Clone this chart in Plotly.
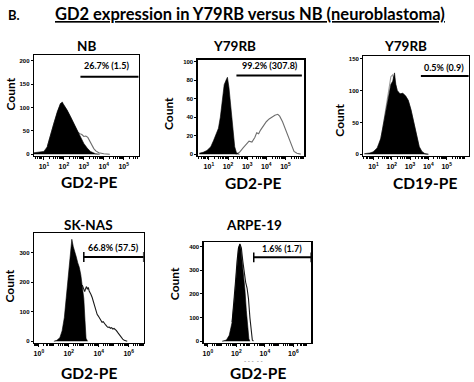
import plotly.graph_objects as go

W, H = 474, 382

# ---------------- DATA (log10 fluorescence, count) ----------------
nb_fill_logx = [0.5, 0.8, 1.0, 1.17, 1.33, 1.5, 1.67, 1.83, 1.92, 2.0, 2.17, 2.33, 2.5, 2.67, 2.83, 3.0, 3.17, 3.33, 3.58, 3.8]
nb_fill_cnt = [3, 5, 6, 16, 41, 66, 91, 108, 112, 105, 94, 80, 66, 52, 38, 23, 13, 6, 1, 0]
nb_open_logx = [1.17, 1.5, 1.83, 2.0, 2.33, 2.5, 2.6, 2.7, 2.8, 2.9, 3.0, 3.1, 3.2, 3.3, 3.4, 3.5, 3.6, 3.75, 4.0, 4.3]
nb_open_cnt = [16, 66, 108, 105, 80, 66, 58, 47, 44, 42, 38, 39, 36, 28, 18, 12, 7, 3, 1, 0]

y79_fill_logx = [0.5, 0.7, 0.9, 1.1, 1.25, 1.4, 1.5, 1.6, 1.7, 1.8, 1.9, 1.97, 2.05, 2.15, 2.25, 2.35, 2.45, 2.6]
y79_fill_cnt = [1, 2, 4, 8, 15, 22, 28, 40, 58, 75, 80, 83, 72, 50, 25, 8, 1, 0]
y79_open_logx = [2.4, 2.6, 2.8, 3.0, 3.1, 3.25, 3.4, 3.5, 3.6, 3.7, 3.85, 4.0, 4.15, 4.3, 4.45, 4.6, 4.7, 4.85, 5.0, 5.15, 5.3, 5.45, 5.6, 5.8]
y79_open_cnt = [0, 2, 7, 12, 14, 13, 18, 23, 22, 26, 31, 35, 38, 40, 42, 43, 41, 35, 27, 18, 9, 3, 1, 0]

cd19_fill_logx = [0.5, 0.8, 1.0, 1.2, 1.4, 1.6, 1.8, 1.95, 2.05, 2.15, 2.22, 2.3, 2.45, 2.6, 2.75, 2.9, 3.05, 3.2, 3.35, 3.5, 3.65, 3.8, 4.0]
cd19_fill_cnt = [1, 2, 4, 10, 25, 55, 90, 110, 115, 128, 110, 100, 95, 96, 92, 85, 70, 50, 28, 12, 4, 1, 0]
cd19_open_logx = [1.0, 1.3, 1.5, 1.7, 1.85, 1.95, 2.05, 2.15, 2.3, 2.45, 2.6, 2.75, 2.9, 3.05, 3.2, 3.35, 3.5, 3.65, 3.8, 4.0]
cd19_open_cnt = [4, 10, 40, 80, 110, 122, 125, 115, 100, 94, 95, 91, 84, 69, 49, 27, 11, 4, 1, 0]

sk_fill_logx = [1.0, 1.2, 1.4, 1.55, 1.7, 1.85, 2.0, 2.1, 2.2, 2.3, 2.4, 2.5, 2.6, 2.7, 2.8, 2.9, 3.0, 3.08, 3.15, 3.25]
sk_fill_cnt = [0, 3, 12, 35, 80, 160, 250, 300, 345, 320, 305, 285, 265, 250, 225, 190, 145, 70, 10, 0]
sk_open_logx = [2.9, 3.0, 3.06, 3.12, 3.18, 3.24, 3.3, 3.36, 3.42, 3.48, 3.56, 3.64, 3.72, 3.8, 3.89, 3.96, 4.04, 4.12, 4.22, 4.3, 4.38, 4.46, 4.54, 4.62, 4.7, 4.78, 4.86, 4.94, 5.02, 5.1, 5.18, 5.26, 5.34, 5.42, 5.5, 5.6, 5.7, 5.8, 5.9]
sk_open_cnt = [190, 172, 168, 178, 185, 176, 182, 170, 165, 158, 148, 132, 120, 104, 91, 86, 80, 72, 64, 66, 58, 55, 50, 47, 48, 44, 46, 41, 43, 40, 36, 30, 24, 18, 12, 7, 3, 1, 0]

arpe_fill_logx = [1.0, 1.3, 1.5, 1.7, 1.85, 1.95, 2.05, 2.15, 2.25, 2.32, 2.4, 2.5, 2.6, 2.7, 2.8, 2.88, 2.95]
arpe_fill_cnt = [0, 5, 25, 80, 170, 260, 340, 395, 410, 390, 340, 290, 220, 130, 50, 10, 0]
arpe_open_logx = [1.7, 1.85, 1.95, 2.05, 2.15, 2.25, 2.35, 2.45, 2.55, 2.65, 2.75, 2.85, 2.95, 3.05, 3.12, 3.2]
arpe_open_cnt = [80, 170, 260, 340, 395, 412, 395, 340, 290, 250, 225, 180, 100, 30, 5, 0]

panel_titles = ["NB", "Y79RB", "Y79RB", "SK-NAS", "ARPE-19"]
x_titles = ["GD2-PE", "GD2-PE", "CD19-PE", "GD2-PE", "GD2-PE"]
gate_labels = ["26.7% (1.5)", "99.2% (307.8)", "0.5% (0.9)", "66.8% (57.5)", "1.6% (1.7)"]
gate_lo = [2.83, 2.44, 3.59, 3.0, 3.22]
gate_hi = [5.75, 5.86, 6.2, 7.0, 7.25]
gate_y = [166, 85, 123, 285, 355]
gate_text_logx = [4.13, 4.21, 4.86, 4.95, 5.2]
gate_text_y = [189, 96, 136, 318, 392]
gate_caps = [False, False, False, True, True]

y_ticks = [[0, 50, 100, 150, 200], [0, 20, 40, 60, 80, 100], [0, 50, 100, 150], [0, 100, 200, 300], [0, 100, 200, 300, 400]]
x_tick_exp_top = [1, 2, 3, 4, 5]
x_tick_exp_bottom = [0, 2, 4, 6]

# ---------------- LAYOUT GEOMETRY (screen pixels) ----------------
boxes = [(33, 138, 54, 156), (197, 304, 59, 156), (363, 469, 55, 156), (33, 143, 233, 344), (203, 311, 242, 344)]
x_ranges = [[0.5, 5.75], [0.41, 5.99], [0.44, 6.22], [-0.33, 7.0], [-0.3, 7.26]]
y_ranges = [[-4.3, 213], [-2.2, 102], [-3, 155], [-6.7, 367], [-8.4, 421]]
title_pos = [(86, 45), (234, 45), (405, 45), (88, 225), (254, 225)]
xtitle_pos = [(88, 182), (253, 183), (425, 183), (88, 374), (258, 374)]
count_pos = [(10, 93), (168, 113), (339, 120), (9, 286), (174, 284)]
open_colors = ["#6e6e6e", "#6e6e6e", "#9a9a9a", "#1a1a1a", "#1a1a1a"]

def fx(px):
    return px / W

def fy(py):
    return 1 - py / H

series = [
    (nb_fill_logx, nb_fill_cnt, nb_open_logx, nb_open_cnt),
    (y79_fill_logx, y79_fill_cnt, y79_open_logx, y79_open_cnt),
    (cd19_fill_logx, cd19_fill_cnt, cd19_open_logx, cd19_open_cnt),
    (sk_fill_logx, sk_fill_cnt, sk_open_logx, sk_open_cnt),
    (arpe_fill_logx, arpe_fill_cnt, arpe_open_logx, arpe_open_cnt),
]

FONT = "Lato"
fig = go.Figure()
layout = dict(width=W, height=H, margin=dict(l=0, r=0, t=0, b=0, pad=0),
              paper_bgcolor="white", plot_bgcolor="white", showlegend=False)
annotations = []

def ann(x, y, text, size, xref="paper", yref="paper", angle=0, color="black"):
    return dict(x=x, y=y, xref=xref, yref=yref, text=text, showarrow=False,
                xanchor="center", yanchor="middle", textangle=angle,
                font=dict(family=FONT, size=size, color=color))

for i in range(5):
    n = i + 1
    xa = "x" if n == 1 else f"x{n}"
    ya = "y" if n == 1 else f"y{n}"
    fxl, fcnt, oxl, ocnt = series[i]
    fig.add_trace(go.Scatter(x=[10 ** v for v in oxl], y=ocnt, mode="lines",
                             line=dict(color=open_colors[i], width=1.1), xaxis=xa, yaxis=ya))
    fig.add_trace(go.Scatter(x=[10 ** v for v in fxl], y=fcnt, mode="lines", fill="tozeroy",
                             fillcolor="black", line=dict(color="black", width=0.6),
                             xaxis=xa, yaxis=ya))
    if gate_caps[i]:
        fig.add_trace(go.Scatter(x=[10 ** gate_lo[i], 10 ** gate_hi[i]], y=[gate_y[i], gate_y[i]],
                                 mode="lines+markers",
                                 marker=dict(symbol="line-ns-open", size=7,
                                             line=dict(color="black", width=1.5)),
                                 line=dict(color="black", width=2), xaxis=xa, yaxis=ya))
    else:
        fig.add_trace(go.Scatter(x=[10 ** gate_lo[i], 10 ** gate_hi[i]], y=[gate_y[i], gate_y[i]],
                                 mode="lines", line=dict(color="black", width=2),
                                 xaxis=xa, yaxis=ya))
    annotations.append(ann(gate_text_logx[i], gate_text_y[i], f"<b>{gate_labels[i]}</b>", 9,
                           xref=xa, yref=ya))

    l, r, t, b = boxes[i]
    exps = x_tick_exp_top if i < 3 else x_tick_exp_bottom
    lo_e = int(x_ranges[i][0]) - 1
    hi_e = int(x_ranges[i][1]) + 1
    minor_vals = [m * 10 ** e for e in range(lo_e, hi_e + 1) for m in range(2, 10)]
    layout["xaxis" if n == 1 else f"xaxis{n}"] = dict(
        domain=[fx(l), min(fx(r), 1)], anchor=ya, type="log", range=x_ranges[i],
        tickvals=[10 ** e for e in exps], ticktext=[f"10<sup>{e}</sup>" for e in exps],
        tickfont=dict(family="Liberation Sans", size=7, color="black", weight="bold"),
        ticks="outside", ticklen=3, tickwidth=1, tickcolor="black",
        minor=dict(tickvals=minor_vals, ticks="outside", ticklen=1.5, tickcolor="black"),
        showline=True, linecolor="black", linewidth=1.2, mirror=True,
        showgrid=False, zeroline=False, fixedrange=True)
    layout["yaxis" if n == 1 else f"yaxis{n}"] = dict(
        domain=[fy(b), fy(t)], anchor=xa, range=y_ranges[i],
        tickvals=y_ticks[i],
        tickfont=dict(family="Liberation Sans", size=6, color="black", weight="bold"),
        ticks="outside", ticklen=2, tickwidth=1, tickcolor="black",
        showline=True, linecolor="black", linewidth=1.2, mirror=True,
        showgrid=False, zeroline=False, fixedrange=True)

    tx, ty = title_pos[i]
    annotations.append(ann(fx(tx), fy(ty), f"<b>{panel_titles[i]}</b>", 13.5))
    xx, xy = xtitle_pos[i]
    annotations.append(ann(fx(xx), fy(xy), f"<b>{x_titles[i]}</b>", 15.5))
    cx, cy = count_pos[i]
    annotations.append(ann(fx(cx), fy(cy), "<b>Count</b>", 12, angle=-90))

annotations.append(ann(fx(250), fy(13),
                       "<b><u>GD2 expression in Y79RB versus NB (neuroblastoma)</u></b>", 16.5))
annotations.append(ann(fx(13), fy(14), "<b>B.</b>", 13))
annotations.append(ann(fx(253), fy(361), "- - -  - -", 6, color="#555555"))

layout["annotations"] = annotations
fig.update_layout(**layout)
fig.write_html("out.html", config={"displayModeBar": False, "staticPlot": True},
               post_script="document.body.style.margin='0px';document.body.style.overflow='hidden';")
